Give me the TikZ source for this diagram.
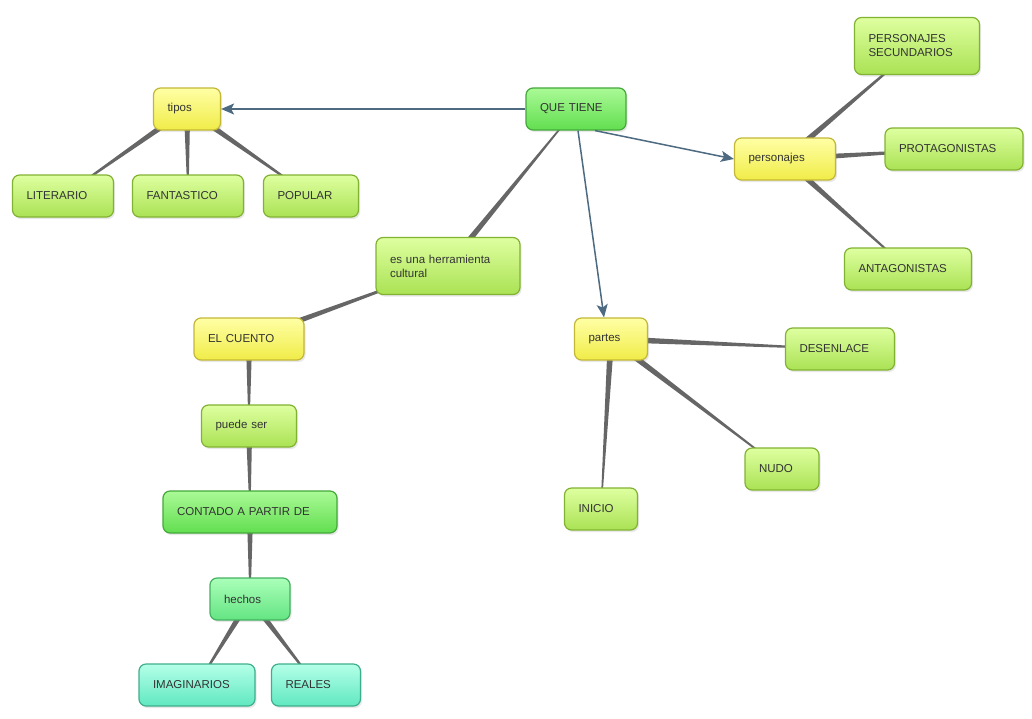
\documentclass[tikz,border=0pt]{standalone}
\usepackage{fontspec}
\setmainfont{Liberation Sans}
\usetikzlibrary{positioning,calc,arrows.meta,shadows,backgrounds}

\definecolor{bordeamarillo}{HTML}{C2B736}
\definecolor{bordeverde}{HTML}{82B232}
\definecolor{bordefuerte}{HTML}{44A83A}
\definecolor{bordehechos}{HTML}{44B060}
\definecolor{bordeturquesa}{HTML}{3FAE8C}
\definecolor{flecha}{HTML}{4D6A80}
\definecolor{enlacegris}{HTML}{666666}
\definecolor{texto}{HTML}{333333}

\tikzset{
  concepto/.style={rounded corners=7pt, draw, line width=1.2pt, align=left,
    inner xsep=14pt, minimum height=42pt, text=texto,
    font=\fontsize{11.5}{14}\selectfont,
    drop shadow={opacity=0.18, shadow xshift=1.5pt, shadow yshift=-2pt}},
  amarillo/.style={concepto, draw=bordeamarillo, top color={rgb,255:red,255;green,255;blue,165}, bottom color={rgb,255:red,240;green,236;blue,72}},
  verde/.style={concepto, draw=bordeverde, top color={rgb,255:red,222;green,255;blue,160}, bottom color={rgb,255:red,170;green,226;blue,84}},
  fuerte/.style={concepto, draw=bordefuerte, top color={rgb,255:red,170;green,250;blue,150}, bottom color={rgb,255:red,98;green,222;blue,80}},
  hechosc/.style={concepto, draw=bordehechos, top color={rgb,255:red,170;green,255;blue,185}, bottom color={rgb,255:red,100;green,228;blue,130}},
  turquesa/.style={concepto, draw=bordeturquesa, top color={rgb,255:red,180;green,255;blue,232}, bottom color={rgb,255:red,96;green,232;blue,192}},
  dos/.style={minimum height=57pt},
  flechaazul/.style={draw=flecha, line width=1.5pt, -{Stealth[length=13pt,width=11pt,inset=3pt]}}
}

% enlace afilado: grueso en el origen, fino en el destino
\newcommand{\enlace}[2]{%
  \fill[enlacegris] ($(#1)!3.2pt!90:(#2)$) -- ($(#1)!3.2pt!-90:(#2)$)
    -- ($(#2)!0.5pt!90:(#1)$) -- ($(#2)!0.5pt!-90:(#1)$) -- cycle;}

\begin{document}
\begin{tikzpicture}[x=1pt, y=-1pt]
    \useasboundingbox (0,0) rectangle (1032,718);

    % conceptos
    \node[fuerte, text width=72pt] (quetiene) at (576,109) {QUE TIENE};
    \node[amarillo, text width=39pt] (tipos) at (187,109) {tipos};
    \node[verde, text width=73pt] (literario) at (63,196) {LITERARIO};
    \node[verde, text width=83pt] (fantastico) at (188,196) {FANTASTICO};
    \node[verde, text width=67pt] (popular) at (311,196) {POPULAR};

    \node[amarillo, text width=73pt] (personajes) at (785,159) {personajes};
    \node[verde, dos, text width=97pt] (secundarios) at (917,46) {PERSONAJES\\SECUNDARIOS};
    \node[verde, text width=110pt] (protagonistas) at (954,149) {PROTAGONISTAS};
    \node[verde, text width=99pt] (antagonistas) at (908,269) {ANTAGONISTAS};

    \node[verde, dos, text width=116pt] (herramienta) at (448,266) {es una herramienta\\cultural};
    \node[amarillo, text width=82pt] (cuento) at (249,339) {EL CUENTO};
    \node[verde, text width=67pt] (puede) at (249,426) {puede ser};
    \node[fuerte, text width=146pt] (contado) at (250,512) {CONTADO A PARTIR DE};
    \node[hechosc, text width=52pt] (hechos) at (250,599) {hechos};
    \node[turquesa, text width=88pt] (imaginarios) at (197,685) {IMAGINARIOS};
    \node[turquesa, text width=61pt] (reales) at (316,685) {REALES};

    \node[amarillo, text width=45pt] (partes) at (611,339) {partes};
    \node[verde, text width=81pt] (desenlace) at (840,349) {DESENLACE};
    \node[verde, text width=46pt] (nudo) at (782,469) {NUDO};
    \node[verde, text width=45pt] (inicio) at (601,509) {INICIO};

    % enlaces
    \begin{scope}[on background layer]
        \enlace{tipos}{literario}
        \enlace{tipos}{fantastico}
        \enlace{tipos}{popular}
        \enlace{personajes}{secundarios}
        \enlace{personajes}{protagonistas}
        \enlace{personajes}{antagonistas}
        \enlace{herramienta}{quetiene}
        \enlace{cuento}{herramienta}
        \enlace{cuento}{puede}
        \enlace{puede}{contado}
        \enlace{contado}{hechos}
        \enlace{hechos}{imaginarios}
        \enlace{hechos}{reales}
        \enlace{partes}{desenlace}
        \enlace{partes}{nudo}
        \enlace{partes}{inicio}
    \end{scope}

    % flechas
    \draw[flechaazul] (quetiene.west) -- (tipos.east);
    \draw[flechaazul] ([xshift=19pt]quetiene.south) -- (personajes.west);
    \draw[flechaazul] ([xshift=2pt]quetiene.south) -- ([xshift=-7pt]partes.north);
\end{tikzpicture}
\end{document}
